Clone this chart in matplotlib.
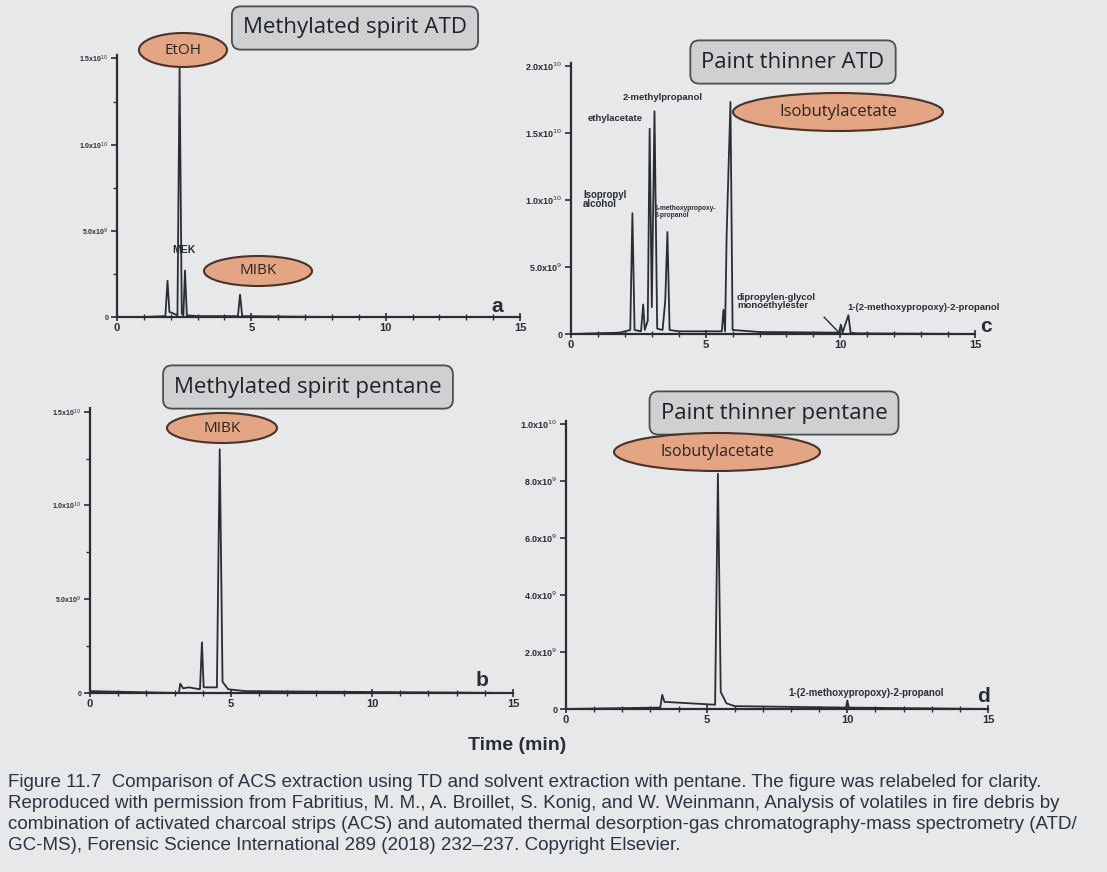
import matplotlib.pyplot as plt
from matplotlib.patches import Ellipse
from matplotlib.ticker import MultipleLocator

# chromatogram traces: time (min), intensity (x1e9 counts)
t_a = [0, 1.0, 1.80, 1.88, 1.95, 2.25, 2.33, 2.41, 2.47, 2.53, 2.60, 3.0, 4.50, 4.58, 4.66, 8.0, 15]
i_a = [0, 0.0, 0.05, 2.1, 0.3, 0.1, 14.5, 0.2, 0.1, 2.7, 0.1, 0.05, 0.05, 1.3, 0.05, 0.0, 0.0]

t_c = [0, 1.8, 2.20, 2.28, 2.36, 2.60, 2.68, 2.74, 2.85, 2.92, 3.00, 3.10, 3.20, 3.40, 3.50, 3.58, 3.66,
       4.0, 5.60, 5.66, 5.72, 5.78, 5.92, 6.00, 7.0, 9.95, 10.02, 10.08, 10.30, 10.38, 10.6, 15]
i_c = [0, 0.1, 0.3, 9.0, 0.3, 0.2, 2.2, 0.3, 1.0, 15.3, 2.0, 16.6, 0.4, 0.3, 2.5, 7.6, 0.3,
       0.2, 0.2, 1.8, 0.2, 7.5, 17.3, 0.3, 0.15, 0.1, 0.7, 0.1, 1.4, 0.1, 0.05, 0.0]

t_b = [0, 3.15, 3.20, 3.30, 3.50, 3.90, 3.97, 4.03, 4.50, 4.60, 4.70, 4.90, 5.5, 15]
i_b = [0.1, 0.0, 0.5, 0.25, 0.3, 0.2, 2.7, 0.3, 0.3, 13.0, 0.6, 0.2, 0.1, 0.0]

t_d = [0, 3.35, 3.42, 3.50, 5.30, 5.40, 5.50, 5.70, 6.0, 9.95, 10.0, 10.05, 15]
i_d = [0, 0.05, 0.5, 0.25, 0.15, 8.25, 0.6, 0.2, 0.1, 0.05, 0.3, 0.05, 0.0]

yt_a = [0, 5, 10, 15]
yl_a = ['0', r'5.0x10$^{9}$', r'1.0x10$^{10}$', r'1.5x10$^{10}$']
yt_c = [0, 5, 10, 15, 20]
yl_c = ['0', r'5.0x10$^{9}$', r'1.0x10$^{10}$', r'1.5x10$^{10}$', r'2.0x10$^{10}$']
yt_d = [0, 2, 4, 6, 8, 10]
yl_d = ['0', r'2.0x10$^{9}$', r'4.0x10$^{9}$', r'6.0x10$^{9}$', r'8.0x10$^{9}$', r'1.0x10$^{10}$']

W, H = 1107, 872
bg = '#e7e8ea'
ink = '#2a2e33'
salmon = '#e3a584'

fig = plt.figure(figsize=(W / 100, H / 100), dpi=100, facecolor=bg)


def px(x0, y0, x1, y1):
    # pixel box (left, top, right, bottom) -> figure rect
    return [x0 / W, 1 - y1 / H, (x1 - x0) / W, (y1 - y0) / H]


def panel(rect, t, y, ymax, yt, yl, ysize, yminor=None):
    ax = fig.add_axes(rect)
    ax.set_facecolor('none')
    ax.plot(t, y, color=ink, lw=1.3)
    ax.set_xlim(0, 15)
    ax.set_ylim(0, ymax)
    for s in ['top', 'right']:
        ax.spines[s].set_visible(False)
    for s in ['left', 'bottom']:
        ax.spines[s].set_linewidth(1.6)
        ax.spines[s].set_color(ink)
    ax.set_xticks([0, 5, 10, 15])
    ax.xaxis.set_minor_locator(MultipleLocator(1))
    ax.set_yticks(yt)
    ax.set_yticklabels(yl)
    if yminor:
        ax.yaxis.set_minor_locator(MultipleLocator(yminor))
    ax.tick_params(axis='x', direction='inout', length=6, width=1.2, colors=ink,
                   labelsize=8, pad=1)
    ax.tick_params(axis='x', which='minor', direction='inout', length=4, width=1, colors=ink)
    ax.tick_params(axis='y', direction='out', length=4, width=1.2, colors=ink,
                   labelsize=ysize, pad=2)
    ax.tick_params(axis='y', which='minor', direction='out', length=3, width=1, colors=ink)
    for lab in ax.get_xticklabels() + ax.get_yticklabels():
        lab.set_fontfamily('Liberation Sans')
        lab.set_fontweight('bold')
    return ax


ax_a = panel(px(117, 55, 520, 317), t_a, i_a, 15.2, yt_a, yl_a, 5, yminor=2.5)
ax_c = panel(px(571, 63, 975, 334), t_c, i_c, 20.2, yt_c, yl_c, 6.5)
ax_b = panel(px(90, 408, 513, 693), t_b, i_b, 15.2, yt_a, yl_a, 5, yminor=2.5)
ax_d = panel(px(566, 421, 988, 709), t_d, i_d, 10.1, yt_d, yl_d, 6.5)

small = dict(family='Liberation Sans', fontweight='bold', color=ink, va='center')
ax_a.text(2.05, 3.9, 'MEK', fontsize=7.5, **small)
ax_c.text(0.45, 10.0, 'Isopropyl\nalcohol', fontsize=7, linespacing=0.9, **small)
ax_c.text(0.63, 16.1, 'ethylacetate', fontsize=6.8, **small)
ax_c.text(1.93, 17.6, '2-methylpropanol', fontsize=6.8, **small)
ax_c.text(3.12, 9.1, '1-methoxypropoxy-\n2-propanol', fontsize=4.8, linespacing=0.9, **small)
ax_c.text(6.16, 2.4, 'dipropylen-glycol\nmonoethylester', fontsize=6.8, linespacing=0.9, **small)
ax_c.text(10.25, 1.95, '1-(2-methoxypropoxy)-2-propanol', fontsize=6.8, **small)
ax_c.plot([9.4, 9.95], [1.25, 0.1], color=ink, lw=1)
ax_d.text(7.9, 0.56, '1-(2-methoxypropoxy)-2-propanol', fontsize=7, **small)

# title boxes
box = dict(boxstyle='round,pad=0.5,rounding_size=0.4', facecolor='#cfd0d2', edgecolor='#4a4d52', lw=1.3)
ttl = dict(fontsize=16, family='Open Sans', color='#1e2226', ha='center', va='center', bbox=box)
fig.text(355 / W, 1 - 28 / H, 'Methylated spirit ATD', **ttl)
fig.text(793 / W, 1 - 62 / H, 'Paint thinner ATD', **ttl)
fig.text(308 / W, 1 - 387 / H, 'Methylated spirit pentane', **ttl)
fig.text(774 / W, 1 - 413 / H, 'Paint thinner pentane', **ttl)

# orange ellipse labels
ell_x = [183, 258, 838, 222, 717]
ell_y = [50, 271, 112, 428, 452]
ell_w = [88, 108, 210, 110, 206]
ell_h = [34, 30, 38, 30, 38]
ell_t = ['EtOH', 'MIBK', 'Isobutylacetate', 'MIBK', 'Isobutylacetate']
ell_s = [11, 11, 12, 11, 11.5]
for x, y, w, h, t, s in zip(ell_x, ell_y, ell_w, ell_h, ell_t, ell_s):
    e = Ellipse((x / W, 1 - y / H), w / W, h / H, transform=fig.transFigure,
                facecolor=salmon, edgecolor='#4a3328', lw=1.5, zorder=5)
    fig.add_artist(e)
    fig.text(x / W, 1 - y / H, t, fontsize=s, family='Open Sans', color='#2a2522',
             ha='center', va='center', zorder=6)

# panel letters
let = dict(fontsize=15, family='Liberation Sans', fontweight='bold', color=ink, ha='center', va='center')
fig.text(497 / W, 1 - 306 / H, 'a', **let)
fig.text(482 / W, 1 - 680 / H, 'b', **let)
fig.text(986 / W, 1 - 326 / H, 'c', **let)
fig.text(984 / W, 1 - 696 / H, 'd', **let)

fig.text(517 / W, 1 - 745 / H, 'Time (min)', fontsize=14, family='Liberation Sans',
         fontweight='bold', color=ink, ha='center', va='center')

# caption
cap = ['Figure 11.7  Comparison of ACS extraction using TD and solvent extraction with pentane. The figure was relabeled for clarity.',
       'Reproduced with permission from Fabritius, M. M., A. Broillet, S. Konig, and W. Weinmann, Analysis of volatiles in fire debris by',
       'combination of activated charcoal strips (ACS) and automated thermal desorption-gas chromatography-mass spectrometry (ATD/',
       'GC-MS), Forensic Science International 289 (2018) 232\u2013237. Copyright Elsevier.']
cap_y = [782, 803, 824, 845]
for line, y in zip(cap, cap_y):
    fig.text(8 / W, 1 - y / H, line, fontsize=13.5, family='Liberation Sans',
             color='#2b3440', ha='left', va='center')

fig.savefig('out.png', dpi=100, facecolor=bg)
